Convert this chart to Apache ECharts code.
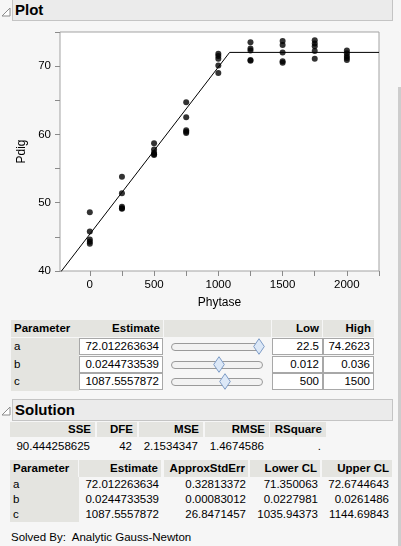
<!DOCTYPE html>
<html>
<head>
<meta charset="utf-8">
<script src="https://cdn.jsdelivr.net/npm/echarts@6/dist/echarts.min.js"></script>
<style>
  html, body { margin: 0; padding: 0; }
  body {
    width: 401px; height: 546px; overflow: hidden; position: relative;
    background: #f6f6f6;
    font-family: "Liberation Sans", Arial, sans-serif; font-size: 11.5px; color: #000;
  }
  #main { position: absolute; left: 0; top: 0; width: 398px; height: 318px; }
  .box { position: absolute; box-sizing: border-box; white-space: pre; overflow: hidden; }
  .outline { background: #ebebeb; border: 1px solid #c4c4c4; font-weight: bold; font-size: 15px; padding-left: 2px; line-height: 19px; }
  .hd { background: #e4e4e0; font-weight: bold; text-align: right; padding-right: 3px; }
  .gr { background: #e4e4e0; padding-left: 3px; }
  .ed { background: #fff; border: 1px solid #a8a8a8; text-align: right; padding-right: 3px; }
  .tx { text-align: right; padding-right: 3px; }
  .track { position: absolute; box-sizing: border-box; height: 8px; border: 1.5px solid #9a9a9a; border-radius: 4px; background: #f2f2f2; }
  .thumb { position: absolute; width: 12px; height: 17px; }
  .tri { position: absolute; width: 10px; height: 10px; }
</style>
</head>
<body>
<div id="main"></div>
<div id="report"></div>
<script>
// chart data
const doseLevels = [0, 250, 500, 750, 1000, 1250, 1500, 1750, 2000];
const pdigByDose = [
  [48.6, 45.8, 44.6, 44.3, 44.0],
  [53.8, 51.4, 49.4, 49.2, 49.1],
  [58.7, 57.8, 57.3, 57.1, 57.0],
  [64.7, 62.5, 60.6, 60.4, 60.2],
  [71.8, 71.5, 71.1, 70.1, 69.0],
  [73.5, 72.6, 72.3, 70.9, 70.8],
  [73.7, 73.1, 72.0, 70.7, 70.5],
  [73.8, 73.3, 72.9, 72.2, 71.1],
  [72.3, 71.9, 71.5, 71.2, 70.9]
];
// fitted linear-plateau line (break at c)
const fitX = [-232, 1087.5557872, 2250];
const fitY = [39.72, 72.012263634, 72.012263634];
const xTickLabels = [0, 500, 1000, 1500, 2000];
const xTicks = [0, 250, 500, 750, 1000, 1250, 1500, 1750, 2000, 2250];

// report tables
const paramNames = ['a', 'b', 'c'];
const estimates = ['72.012263634', '0.0244733539', '1087.5557872'];
const lows = ['22.5', '0.012', '500'];
const highs = ['74.2623', '0.036', '1500'];
const fitStatsHead = ['SSE', 'DFE', 'MSE', 'RMSE', 'RSquare'];
const fitStats = ['90.444258625', '42', '2.1534347', '1.4674586', '.'];
const stdErrs = ['0.32813372', '0.00083012', '26.8471457'];
const lowerCL = ['71.350063', '0.0227981', '1035.94373'];
const upperCL = ['72.6744643', '0.0261486', '1144.69843'];

let points = [];
doseLevels.forEach(function (d, i) {
  pdigByDose[i].forEach(function (v) { points.push([d, v]); });
});

let mychart = echarts.init(document.getElementById('main'));
let option = {
  animation: false,
  grid: {
    left: 60, top: 32, width: 319, height: 239,
    show: true, backgroundColor: '#fff', borderColor: '#a3a3a3', borderWidth: 1
  },
  xAxis: {
    type: 'value', min: -232, max: 2250,
    name: 'Phytase', nameLocation: 'middle', nameGap: 26,
    nameTextStyle: { color: '#000', fontSize: 12, fontFamily: 'Liberation Sans' },
    axisLine: { show: false, onZero: false },
    splitLine: { show: false },
    axisTick: { show: true, length: 5, lineStyle: { color: '#8a8a8a' }, customValues: xTicks },
    axisLabel: {
      customValues: xTickLabels, color: '#000', fontSize: 11.5, fontFamily: 'Liberation Sans', margin: 8,
      formatter: function (v) { return String(v); }
    }
  },
  yAxis: {
    type: 'value', min: 40, max: 75, interval: 5,
    name: 'Pdig', nameLocation: 'middle', nameGap: 30,
    nameTextStyle: { color: '#000', fontSize: 12, fontFamily: 'Liberation Sans' },
    axisLine: { show: false, onZero: false },
    splitLine: { show: false },
    axisTick: { show: true, length: 5, lineStyle: { color: '#8a8a8a' } },
    axisLabel: {
      color: '#000', fontSize: 11.5, fontFamily: 'Liberation Sans', margin: 9,
      formatter: function (v) { return v % 10 === 0 ? String(v) : ''; }
    }
  },
  series: [
    {
      type: 'line',
      data: fitX.map(function (x, i) { return [x, fitY[i]]; }),
      showSymbol: false,
      lineStyle: { color: '#000', width: 1 },
      z: 2
    },
    {
      type: 'scatter',
      data: points,
      symbolSize: 6,
      itemStyle: { color: '#000' },
      z: 3
    }
  ]
};
mychart.setOption(option);

// ---- report (HTML) ----
let rep = document.getElementById('report');
function box(cls, l, t, w, h, text, extra) {
  let d = document.createElement('div');
  d.className = 'box ' + cls;
  d.style.left = l + 'px'; d.style.top = t + 'px';
  d.style.width = w + 'px'; d.style.height = h + 'px';
  d.style.lineHeight = (cls.indexOf('outline') >= 0 ? h - 2 : h) + 'px';
  if (text !== undefined) d.textContent = text;
  if (extra) Object.assign(d.style, extra);
  rep.appendChild(d);
  return d;
}
function tri(l, t) {
  rep.insertAdjacentHTML('beforeend',
    '<svg class="tri" style="left:' + l + 'px;top:' + t + 'px" viewBox="0 0 10 10">' +
    '<polygon points="9,1 9,9 1,9" fill="#fff" stroke="#8c8c8c" stroke-width="1"/></svg>');
}

// Plot outline header
tri(1, 7);
box('outline', 12, -1, 381, 22, 'Plot');

// parameter table with sliders
let c1 = [[11, 68], [79, 84], [164, 107], [272, 50], [323, 51]];
let h1 = ['Parameter', 'Estimate', '', 'Low', 'High'];
h1.forEach(function (t, i) {
  box('hd', c1[i][0], 320, c1[i][1], 17, t, i === 0 ? { textAlign: 'left', paddingLeft: '3px' } : null);
});
let lo = [22.5, 0.012, 500], hi = [74.2623, 0.036, 1500], est = [72.012263634, 0.0244733539, 1087.5557872];
paramNames.forEach(function (p, r) {
  let top = 338 + r * 17.5;
  box('gr', 11, top, 68, 17.5, p);
  box('ed', 79, top, 84, 17, estimates[r], { lineHeight: '15px' });
  box('ed', 272, top, 51, 17, lows[r], { lineHeight: '15px' });
  box('ed', 323, top, 51, 17, highs[r], { lineHeight: '15px' });
  let tr = document.createElement('div');
  tr.className = 'track';
  tr.style.left = '171px'; tr.style.top = (top + 5) + 'px'; tr.style.width = '92px';
  rep.appendChild(tr);
  let frac = (est[r] - lo[r]) / (hi[r] - lo[r]);
  let cx = 171 + frac * 92;
  rep.insertAdjacentHTML('beforeend',
    '<svg class="thumb" style="left:' + (cx - 6) + 'px;top:' + (top) + 'px" viewBox="0 0 12 17">' +
    '<polygon points="6,0.7 11.3,8.5 6,16.3 0.7,8.5" fill="#dce8f7" stroke="#7e9cc6" stroke-width="1"/></svg>');
});

// Solution outline header
tri(1, 406);
box('outline', 12, 399, 381, 22, 'Solution');

// fit statistics
let c2 = [[10, 85], [97, 40], [139, 64], [205, 64], [270, 56]];
fitStatsHead.forEach(function (t, i) {
  box('hd', c2[i][0], 422, c2[i][1], 15, t, { paddingRight: '4px' });
  box('tx', c2[i][0], 438, c2[i][1], 16, fitStats[i], { paddingRight: '5px' });
});

// parameter estimates
let c3 = [[10, 69], [79, 83], [164, 85], [250, 71], [322, 70]];
let h3 = ['Parameter', 'Estimate', 'ApproxStdErr', 'Lower CL', 'Upper CL'];
h3.forEach(function (t, i) {
  box('hd', c3[i][0], 460, c3[i][1] - (i < 4 ? 1 : 0), 17, t, i === 0 ? { textAlign: 'left', paddingLeft: '3px' } : null);
});
paramNames.forEach(function (p, r) {
  let top = 477 + r * 15;
  let vals = [p, estimates[r], stdErrs[r], lowerCL[r], upperCL[r]];
  vals.forEach(function (v, i) {
    if (i === 0) box('gr', 10, top, 69, 15, v);
    else box('tx', c3[i][0], top, c3[i][1], 15, v);
  });
});
box('tx', 10, 529, 250, 16, 'Solved By:  Analytic Gauss-Newton', { textAlign: 'left', paddingLeft: '1px' });

// scrollbar
box('', 398, 87, 3, 459, undefined, { background: '#cdcdcd' });
</script>
</body>
</html>
